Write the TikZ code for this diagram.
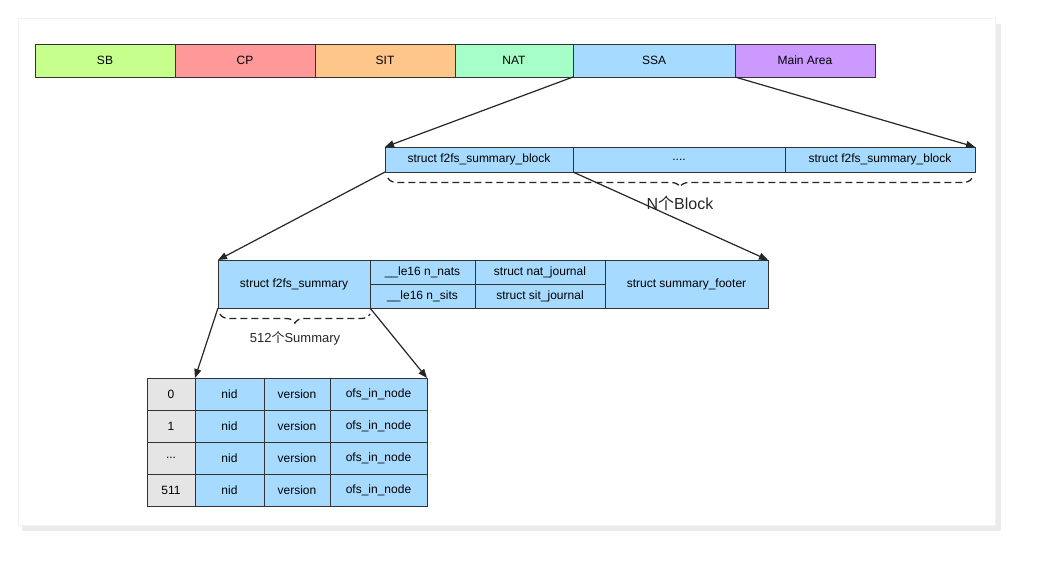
\documentclass[tikz,border=0pt]{standalone}
\usepackage{fontspec}
\setmainfont{Liberation Sans}
\newfontfamily\cjk{Noto Sans CJK SC}
\usetikzlibrary{positioning}
\usetikzlibrary{decorations.pathreplacing}
\usetikzlibrary{arrows.meta}
\newcommand{\rowdots}{...}
\definecolor{mainpurple}{HTML}{CC99FF}
\tikzset{
    % A generic field of a layout bar
    cell/.style={draw=black!80, thick, rectangle, inner sep=0, outer sep=0,
        anchor=north west, font=\fontsize{12}{14}\selectfont},
%
    % Field fills
    sb fill/.style={fill=green!50!yellow!45},
    cp fill/.style={fill=red!40},
    sit fill/.style={fill=orange!45},
    nat fill/.style={fill=green!60!cyan!35},
    ssa fill/.style={fill=blue!40!cyan!35},
    main fill/.style={fill=mainpurple},
    idx fill/.style={fill=black!10},
%
    % Connectors and dashed braces
    link/.style={-{Triangle[length=9pt,width=7pt]}, line width=1.2pt, black!85},
    count brace/.style={decorate, line width=1.3pt, black!85,
        dash pattern=on 7pt off 4pt,
        decoration={brace, mirror, amplitude=9pt}}}

\begin{document}
\begin{tikzpicture}[x=1pt, y=-1pt]
\useasboundingbox (0,0) rectangle (1042,573);

% The card with its shadow
\fill[black!8] (22,24) rectangle (1001,531);
\fill[white, draw=black!5] (18,18) rectangle (995,525);

% Partition layout of the volume
\path
    node[cell, sb fill, minimum width=140, minimum height=33] (sb) at (35,44) {SB}
    node[cell, cp fill, minimum width=140, minimum height=33] (cp) at (175,44) {CP}
    node[cell, sit fill, minimum width=140, minimum height=33] (sit) at (315,44) {SIT}
    node[cell, nat fill, minimum width=118, minimum height=33] (nat) at (455,44) {NAT}
    node[cell, ssa fill, minimum width=162, minimum height=33] (ssa) at (573,44) {SSA}
    node[cell, main fill, minimum width=140, minimum height=33] (main area) at (735,44) {Main Area};

% The SSA as a run of summary blocks
\path
    node[cell, ssa fill, minimum width=188, minimum height=25] (first block) at (385,147) {struct f2fs\_summary\_block}
    node[cell, ssa fill, minimum width=212, minimum height=25] (mid blocks) at (573,147) {....}
    node[cell, ssa fill, minimum width=190, minimum height=25] (last block) at (785,147) {struct f2fs\_summary\_block};

\draw[link] (ssa.south west) -- (first block.north west);
\draw[link] (ssa.south east) -- (last block.north east);

\draw[count brace] ([xshift=3pt, yshift=-6pt]first block.south west)
    -- node[below=14pt, font=\fontsize{16}{18}\selectfont] (n blocks) {N{\cjk 个}Block}
    ([xshift=-3pt, yshift=-6pt]last block.south east);

% Inside one summary block
\path
    node[cell, ssa fill, minimum width=152, minimum height=48] (summary) at (218,260) {struct f2fs\_summary}
    node[cell, ssa fill, minimum width=105, minimum height=24] (n nats) at (370,260) {\_\_le16 n\_nats}
    node[cell, ssa fill, minimum width=105, minimum height=24] (n sits) at (370,284) {\_\_le16 n\_sits}
    node[cell, ssa fill, minimum width=130, minimum height=24] (nat journal) at (475,260) {struct nat\_journal}
    node[cell, ssa fill, minimum width=130, minimum height=24] (sit journal) at (475,284) {struct sit\_journal}
    node[cell, ssa fill, minimum width=163, minimum height=48] (footer) at (605,260) {struct summary\_footer};

\draw[link] (first block.south west) -- (summary.north west);
\draw[link] (first block.south east) -- (footer.north east);

\draw[count brace] ([xshift=2pt, yshift=-6pt]summary.south west)
    -- node[below=14pt, font=\fontsize{13}{15}\selectfont] (n summaries) {512{\cjk 个}Summary}
    ([xshift=0pt, yshift=-6pt]summary.south east);

% The 512 summary entries
\foreach \idx/\row in {0/0, 1/1, \rowdots/2, 511/3} {
    \path
        node[cell, idx fill, minimum width=48, minimum height=32] (idx \row) at (147,378+32*\row) {\idx}
        node[cell, ssa fill, minimum width=69, minimum height=32] (nid \row) at (195,378+32*\row) {nid}
        node[cell, ssa fill, minimum width=66, minimum height=32] (version \row) at (264,378+32*\row) {version}
        node[cell, ssa fill, minimum width=97, minimum height=32] (ofs \row) at (330,378+32*\row) {ofs\_in\_node};
}

\draw[link] (summary.south west) -- (nid 0.north west);
\draw[link] (summary.south east) -- (ofs 0.north east);

\end{tikzpicture}
\end{document}
